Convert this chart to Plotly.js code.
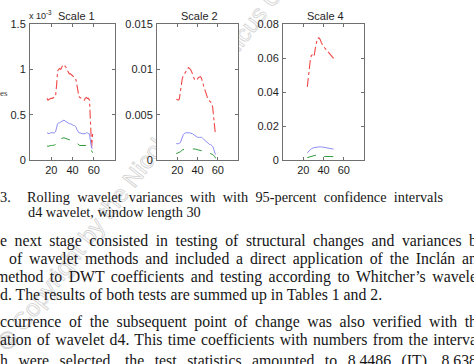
<!DOCTYPE html>
<html><head><meta charset="utf-8">
<script src="https://cdn.plot.ly/plotly-3.0.1.min.js"></script>
<style>
html,body{margin:0;padding:0;background:#fff;}
#wrap{position:relative;width:474px;height:364px;overflow:hidden;background:#fff;}
#wm{position:absolute;font-family:'Liberation Sans',Arial,sans-serif;font-size:24px;line-height:1;color:rgba(255,255,255,0);-webkit-text-stroke:0.8px #d2d2d2;white-space:nowrap;transform-origin:0 0;z-index:0;}
#plot{position:absolute;left:0;top:0;width:474px;height:364px;z-index:1;}
.ln{position:absolute;white-space:nowrap;font-family:'Liberation Serif','Times New Roman',serif;color:#161616;z-index:2;line-height:1;}
</style></head>
<body>
<div id="wrap">
  <div id="wm">© Copyright by the Nicolaus Copernicus University</div>
  <div id="plot"></div>
</div>
<script>
// ---------- data ----------
const xTickVals = [20, 40, 60];
const panelTitles = ['Scale 1', 'Scale 2', 'Scale 4'];

// Scale 1 (values shown in units of 1e-3)
const s1x     = [16,17,18,19,20,21,22,23,24,25,26,27,28,29,30,31,32,33,34,35,36,37,38,39,40,41,42,43,44,45,46,47,48,49,50,51,52,53,54,55,56,57,58,59];
const s1red   = [0.68,0.66,0.67,0.68,0.68,0.68,0.69,0.69,0.70,0.82,0.98,1.00,1.01,1.00,1.03,1.05,1.05,1.04,1.02,0.99,0.96,0.95,0.95,0.94,0.93,0.92,0.91,0.90,0.84,0.75,0.70,0.69,0.68,0.68,0.67,0.66,0.68,0.69,0.68,0.68,0.66,0.45,0.14,0.30];
const s1blue  = [0.30,0.29,0.29,0.30,0.30,0.30,0.30,0.30,0.31,0.36,0.40,0.41,0.41,0.42,0.43,0.44,0.44,0.43,0.42,0.41,0.40,0.40,0.40,0.39,0.39,0.38,0.38,0.37,0.34,0.31,0.30,0.30,0.29,0.29,0.29,0.29,0.29,0.30,0.30,0.29,0.29,0.20,0.13,0.13];
const s1green = [0.155,0.15,0.155,0.16,0.16,0.16,0.16,0.165,0.17,0.20,0.22,0.23,0.23,0.235,0.24,0.245,0.245,0.24,0.235,0.23,0.225,0.22,0.22,0.22,0.215,0.21,0.21,0.205,0.19,0.17,0.165,0.16,0.16,0.16,0.16,0.155,0.16,0.16,0.165,0.16,0.16,0.12,0.09,0.08];

// Scale 2
const s2redX   = [19,21,22,23,24,25,26,28,30,31,33,34,36,37,39,41,43,44,46,48,50,52,54,55,56,57,57.7];
const s2red    = [0.0067,0.0066,0.0067,0.0076,0.0085,0.0090,0.0093,0.0097,0.0101,0.0102,0.0100,0.0098,0.0092,0.0089,0.0088,0.0091,0.0092,0.0090,0.0082,0.0074,0.0068,0.0065,0.0063,0.0058,0.0049,0.0038,0.0028];
const s2blueX  = [19,21,23,24,25,26,28,30,32,35,37,38,40,42,44,45,47,48,50,52,53,55,56,57,57.7];
const s2blue   = [0.0018,0.0018,0.0019,0.0022,0.0026,0.0028,0.0030,0.0030,0.0030,0.0029,0.0027,0.0026,0.0025,0.0025,0.0025,0.0024,0.0022,0.0020,0.0018,0.0017,0.0017,0.0015,0.0012,0.0009,0.0006];
const s2greenX = [19,21,23,25,27,29,32,35,38,41,44,46,49,51,53,55,57,57.7];
const s2green  = [0.0007,0.0008,0.0009,0.0011,0.0012,0.00126,0.00125,0.00124,0.0012,0.0011,0.00104,0.0010,0.0009,0.0008,0.0007,0.0006,0.0004,0.0002];

// Scale 4
const s3redX   = [24,25,26,27,28,29,30,31,32,33,34,35,36,37,38,40,42,44,46,48,50];
const s3red    = [0.0430,0.0500,0.0570,0.0590,0.0615,0.0618,0.0608,0.0620,0.0660,0.0695,0.0715,0.0718,0.0716,0.0705,0.0688,0.0668,0.0655,0.0642,0.0628,0.0612,0.0598];
const s3blueX  = [24,26,28,30,32,35,38,41,44,47,50];
const s3blue   = [0.0043,0.0056,0.0066,0.0072,0.0075,0.0077,0.0077,0.0074,0.0071,0.0068,0.0064];
const s3greenX = [24,26,28,30,32,34,35,36,38,40,44,47,50];
const s3green  = [0.0014,0.0018,0.0022,0.0024,0.0027,0.0031,0.0033,0.0031,0.0022,0.0021,0.0021,0.0021,0.0020];

const y1Ticks = [0, 0.5, 1, 1.5],        y1Text = ['0','0.5','1','1.5'];
const y2Ticks = [0, 0.005, 0.01, 0.015], y2Text = ['0','0.005','0.01','0.015'];
const y3Ticks = [0, 0.02, 0.04, 0.06, 0.08], y3Text = ['0','0.02','0.04','0.06','0.08'];

const captionText = ['3.', 'Rolling wavelet variances with with 95-percent confidence intervals', 'd4 wavelet, window length 30'];
const bodyText = [
  'e next stage consisted in testing of structural changes and variances b',
  'of wavelet methods and included a direct application of the Inclán an',
  'method to DWT coefficients and testing according to Whitcher’s wavele',
  'd. The results of both tests are summed up in Tables 1 and 2.',
  'ccurrence of the subsequent point of change was also verified with th',
  'ation of wavelet d4. This time coefficients with numbers from the interva',
  'h were selected, the test statistics amounted to 8.4486 (IT), 8.638'
];

(function () {
// ---------- chart ----------
const RED = '#f04848', BLUE = '#8e8ef4', GREEN = '#2f9a3a';
function tr(x, y, ax, color, dash, w) {
  return {x: x, y: y, xaxis: 'x' + ax, yaxis: 'y' + ax, type: 'scatter', mode: 'lines',
          line: {color: color, dash: dash, width: w}, hoverinfo: 'skip'};
}
const data = [
  tr(s1x, s1red, '', RED, 'dashdot', 1.1), tr(s1x, s1blue, '', BLUE, 'solid', 1), tr(s1x, s1green, '', GREEN, 'dash', 1),
  tr(s2redX, s2red, '2', RED, 'dashdot', 1.1), tr(s2blueX, s2blue, '2', BLUE, 'solid', 1), tr(s2greenX, s2green, '2', GREEN, 'dash', 1),
  tr(s3redX, s3red, '3', RED, 'dashdot', 1.1), tr(s3blueX, s3blue, '3', BLUE, 'solid', 1), tr(s3greenX, s3green, '3', GREEN, 'dash', 1)
];

const W = 474, H = 364;
const pTop = 24, pBottom = 160;
const yDom = [1 - pBottom / H, 1 - pTop / H];
const tickFont = {family: 'Liberation Sans, Arial, sans-serif', size: 11, color: '#1e1e1e'};
function xa(l, r, anchor) {
  return {domain: [l / W, r / W], range: [0, 80], tickvals: xTickVals, ticktext: xTickVals.map(String),
          showline: true, linecolor: '#707070', linewidth: 1, mirror: 'ticks', ticks: 'inside', ticklen: 3,
          tickcolor: '#707070', showgrid: false, zeroline: false, tickfont: tickFont, anchor: anchor, fixedrange: true};
}
function ya(vals, text, max, anchor) {
  return {domain: yDom, range: [0, max], tickvals: vals, ticktext: text,
          showline: true, linecolor: '#707070', linewidth: 1, mirror: 'ticks', ticks: 'inside', ticklen: 3,
          tickcolor: '#707070', showgrid: false, zeroline: false, tickfont: tickFont, anchor: anchor, fixedrange: true,
          ticklabelstandoff: 1};
}
const titleFont = {family: 'Liberation Sans, Arial, sans-serif', size: 11, color: '#1e1e1e'};
const annotations = [
  {xref: 'x domain', yref: 'y domain', x: 0.5, y: 1, xanchor: 'center', yanchor: 'bottom', xshift: 4, showarrow: false, text: panelTitles[0], font: titleFont},
  {xref: 'x2 domain', yref: 'y2 domain', x: 0.5, y: 1, xanchor: 'center', yanchor: 'bottom', xshift: 2, showarrow: false, text: panelTitles[1], font: titleFont},
  {xref: 'x3 domain', yref: 'y3 domain', x: 0.5, y: 1, xanchor: 'center', yanchor: 'bottom', xshift: 2, showarrow: false, text: panelTitles[2], font: titleFont},
  {xref: 'x domain', yref: 'y domain', x: 0, y: 1, xanchor: 'left', yanchor: 'bottom', xshift: -3, yshift: 1, showarrow: false, text: 'x 10<sup>-3</sup>', font: {family: 'Liberation Sans, Arial, sans-serif', size: 9, color: '#1e1e1e'}},
  {xref: 'paper', yref: 'paper', x: 0, y: 1 - 93 / H, xanchor: 'left', yanchor: 'middle', xshift: -2, showarrow: false, text: 'es', font: {family: 'Liberation Serif, serif', size: 9, color: '#333'}}
];
const layout = {
  width: W, height: H, margin: {l: 0, r: 0, t: 0, b: 0, pad: 0},
  paper_bgcolor: 'rgba(0,0,0,0)', plot_bgcolor: '#ffffff', showlegend: false,
  xaxis: xa(30, 115, 'y'), yaxis: ya(y1Ticks, y1Text, 1.5, 'x'),
  xaxis2: xa(157, 238, 'y2'), yaxis2: ya(y2Ticks, y2Text, 0.015, 'x2'),
  xaxis3: xa(283, 364, 'y3'), yaxis3: ya(y3Ticks, y3Text, 0.08, 'x3'),
  annotations: annotations
};
Plotly.newPlot('plot', data, layout, {staticPlot: true, displayModeBar: false});

// ---------- watermark & text ----------
const wm = document.getElementById('wm');
wm.style.left = '-7px'; wm.style.top = '340px';
wm.style.transform = 'rotate(-52.5deg)';

const wrap = document.getElementById('wrap');
function addLine(text, size, left, baseline, right) {
  const d = document.createElement('div');
  d.className = 'ln';
  d.textContent = text;
  d.style.fontSize = size + 'px';
  d.style.left = left + 'px';
  d.style.top = (baseline - 0.8375 * size) + 'px';
  wrap.appendChild(d);
  if (right !== null) {
    const w = d.getBoundingClientRect().width;
    const n = (text.match(/ /g) || []).length;
    if (n > 0) d.style.wordSpacing = ((right - left - w) / n) + 'px';
  }
}
function layoutText() {
  const cs = 14.3, bs = 15.8;
  addLine(captionText[0], cs, 0, 202, null);
  addLine(captionText[1], cs, 27, 202, 443);
  addLine(captionText[2], cs, 28, 217, null);
  const bl = [246, 264, 282, 300, 327, 345, 366];
  const lefts = [0, 9, -4, 0, 0, 0, 0];
  const rights = [477, 477, 477, null, 477, 477, 477];
  for (let i = 0; i < bodyText.length; i++) addLine(bodyText[i], bs, lefts[i], bl[i], rights[i]);
}
if (document.fonts && document.fonts.ready) document.fonts.ready.then(layoutText); else layoutText();
})();
</script>
</body></html>
